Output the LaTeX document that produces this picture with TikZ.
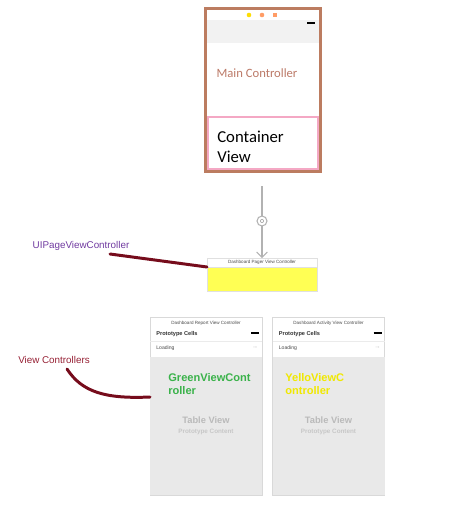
\documentclass[tikz,border=0pt]{standalone}
\usepackage{fontspec}
\setmainfont{Liberation Sans}
\newfontfamily\calibri{Carlito}
\usepackage{tikz}
\usetikzlibrary{arrows.meta,positioning,calc}
\definecolor{framebrown}{RGB}{188,124,96}
\definecolor{softpink}{RGB}{244,168,196}
\definecolor{titlebrown}{RGB}{188,122,104}
\definecolor{seguegray}{RGB}{178,178,178}
\definecolor{pageryellow}{RGB}{255,255,84}
\definecolor{pvcpurple}{RGB}{112,58,160}
\definecolor{markred}{RGB}{118,12,28}
\definecolor{vcred}{RGB}{150,32,52}
\definecolor{cellgray}{RGB}{233,233,233}
\definecolor{greenvc}{RGB}{58,178,74}
\definecolor{yellowvc}{RGB}{240,232,0}

\tikzset{
  box/.style={inner sep=0pt, outer sep=0pt},
  tinytext/.style={font=\fontsize{2.6}{3}\selectfont, text=black!70},
  lefttext/.style={anchor=west, inner sep=0pt, align=left},
  marker/.style={markred, line width=1.7pt, line cap=round},
  segue/.style={seguegray, line width=0.6pt},
}

\begin{document}
\begin{tikzpicture}[x=0.02cm, y=-0.02cm]
  \useasboundingbox (0,0) rectangle (474,515);
  % Main controller
  \node[box, draw=framebrown, line width=1.7pt, fill=white, minimum width=2.32cm, minimum height=3.28cm] (mainframe) at (263,90) {};
  \fill[black!5] (207,20) rectangle (319,43);
  \fill[yellow!80!orange] (249,15) circle (2.3);
  \fill[red!30!orange!60] (262,15) circle (2.3);
  \fill[orange!70!red!60] (273,13) rectangle (277,17);
  \draw[line width=1.1pt] (307,23) -- (315,23);
  \node[font=\calibri\fontsize{7.2}{9}\selectfont, text=titlebrown] (maintitle) at (257,73) {Main Controller};
  % Container view
  \node[box, draw=softpink, line width=1.5pt, minimum width=2.2cm, minimum height=1.04cm] (container) at (263,143) {};
  \node[lefttext, font=\calibri\fontsize{9.5}{11.4}\selectfont] (containertext) at (217,147) {Container\\View};
  % Segue
  \coordinate (segstart) at (262,186);
  \node[box, circle, draw=seguegray, fill=white, line width=0.6pt, minimum size=0.2cm] (segicon) at (262,221) {};
  \draw[seguegray, line width=0.4pt, rounded corners=0.5pt] (260.5,219.5) rectangle (263.5,222.5);
  % Page view controller
  \node[box, draw=black!12, fill=white, minimum width=2.2cm, minimum height=0.18cm] (pagerhead) at (262,262.5) {};
  \node[box, draw=black!12, fill=pageryellow, minimum width=2.2cm, minimum height=0.48cm] (pagerbody) at (262,279) {};
  \node[tinytext] at (pagerhead) {Dashboard Pager View Controller};
  \draw[segue] (segstart) -- (segicon);
  \draw[segue, -{Straight Barb[length=3pt, width=6pt]}] (segicon) -- (pagerhead.north);
  % Labels
  \node[text=pvcpurple, font=\fontsize{5.6}{7}\selectfont] (pvclabel) at (81,246) {UIPageViewController};
  \coordinate (pvctail) at (110,254);
  \draw[marker] (pvctail) -- (pagerbody.north west);
  % Content view controllers
  \foreach \cx/\cname/\ctitle in {206/rep/Report, 328.5/act/Activity} {
    \node[box, draw=black!15, fill=white, minimum width=2.24cm, minimum height=3.56cm] (\cname) at (\cx,406) {};
    \node[tinytext] at (\cx,323) {Dashboard \ctitle\ View Controller};
    \node[lefttext, font=\bfseries\fontsize{3.2}{4}\selectfont, text=black!80] at ({\cx-50},334) {Prototype Cells};
    \draw[line width=1.1pt] ({\cx+45},333) -- ({\cx+53},333);
    \draw[black!8, line width=0.3pt] ({\cx-56},341.5) -- ({\cx+56},341.5);
    \node[lefttext, font=\fontsize{2.9}{4}\selectfont, text=black!70] at ({\cx-50},348) {Loading};
    \node[font=\fontsize{3.5}{4}\selectfont, text=black!25] at ({\cx+49},348) {→};
    \fill[cellgray] ({\cx-56},357) rectangle ({\cx+56},495);
    \node[font=\bfseries\fontsize{5.3}{6}\selectfont, text=black!27] at (\cx,420) {Table View};
    \node[font=\bfseries\fontsize{3.6}{4}\selectfont, text=black!22] at (\cx,432) {Prototype Content};
  }
  \node[lefttext, text=greenvc, font=\bfseries\fontsize{6.3}{7.9}\selectfont] (greentext) at (168,384) {GreenViewCont\\roller};
  \node[lefttext, text=yellowvc, font=\bfseries\fontsize{6.3}{7.9}\selectfont] (yellowtext) at (285,384) {YelloViewC\\ontroller};
  \node[text=vcred, font=\fontsize{5.6}{7}\selectfont] (vclabel) at (54,360) {View Controllers};
  \coordinate (vctail) at (67,369);
  \draw[marker] (vctail) .. controls (82,392) and (105,399) .. ($(rep.west)+(0,-9)$);
\end{tikzpicture}
\end{document}
